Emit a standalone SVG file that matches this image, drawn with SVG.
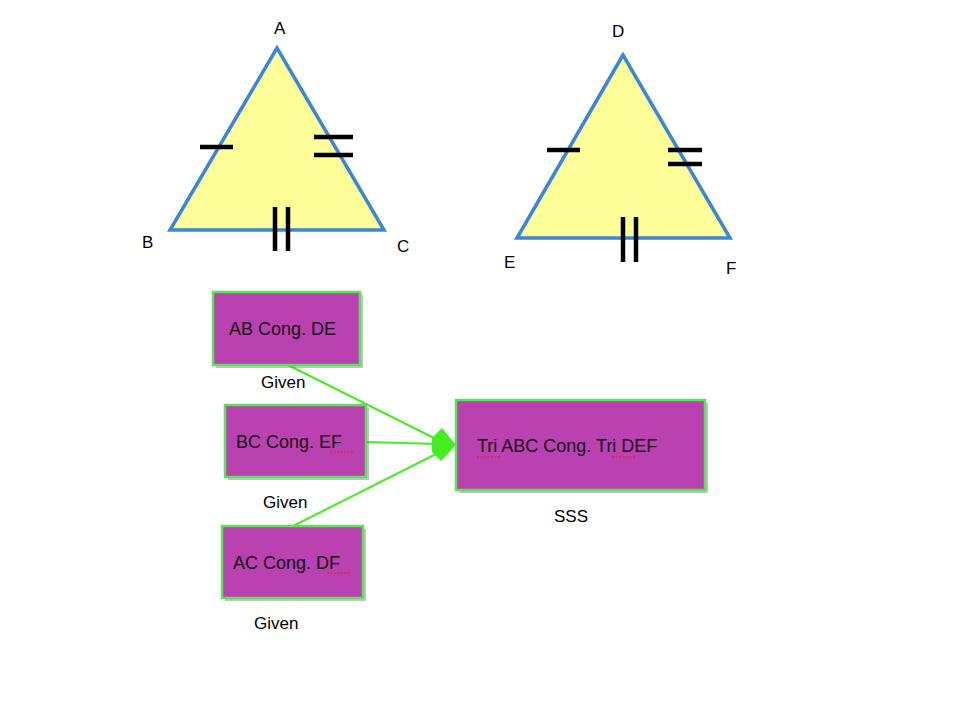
<svg xmlns="http://www.w3.org/2000/svg" width="960" height="720" viewBox="0 0 960 720">
<style>
.tri{fill:#ffff99;stroke:#3a86d8;stroke-width:3.5;stroke-linejoin:miter}
.tk{stroke:#000;stroke-width:4.5}
.lbl{font-family:"Liberation Sans",Arial,sans-serif;font-size:17px;fill:#000}
.box{fill:#b941b0;stroke:#55e655;stroke-width:2.5}
.sh{fill:#888;opacity:0.5}
.bt{font-family:"Liberation Sans",Arial,sans-serif;font-size:18px;fill:#1a0a18}
.sq{stroke:#e02020;stroke-width:1.2;stroke-dasharray:2 1.5}
.cn{stroke:#44ee22;stroke-width:2;fill:none}
</style>
<rect width="960" height="720" fill="#fff"/>
<g id="triangleABC">
<polygon class="tri" points="277,48 170,230 384,230"/>
<line class="tk" x1="200" y1="147" x2="233" y2="147"/>
<line class="tk" x1="314" y1="137" x2="353" y2="137"/>
<line class="tk" x1="314" y1="155" x2="353" y2="155"/>
<line class="tk" x1="275" y1="207" x2="275" y2="251"/>
<line class="tk" x1="288" y1="207" x2="288" y2="251"/>
<text class="lbl" x="274" y="34">A</text>
<text class="lbl" x="142" y="248">B</text>
<text class="lbl" x="397" y="252">C</text>
</g>
<g id="triangleDEF">
<polygon class="tri" points="623,55 517,238 730,238"/>
<line class="tk" x1="547" y1="150" x2="580" y2="150"/>
<line class="tk" x1="668" y1="150" x2="702" y2="150"/>
<line class="tk" x1="668" y1="164" x2="702" y2="164"/>
<line class="tk" x1="623" y1="217" x2="623" y2="262"/>
<line class="tk" x1="636" y1="217" x2="636" y2="262"/>
<text class="lbl" x="612" y="37">D</text>
<text class="lbl" x="504" y="268">E</text>
<text class="lbl" x="726" y="274">F</text>
</g>
<g id="connectors">
<line class="cn" x1="288" y1="365" x2="440" y2="441"/>
<line class="cn" x1="366" y1="442" x2="440" y2="444"/>
<line class="cn" x1="293" y1="526" x2="440" y2="452"/>
<polygon fill="#44ee22" points="456,445 442,428 432,438 432,452 441,461"/>
</g>
<g id="nodeAB">
<rect class="sh" x="216" y="295" width="147" height="73"/>
<rect class="box" x="213" y="292" width="147" height="73"/>
<text class="bt" x="229" y="335">AB Cong. DE</text>
<text class="lbl" x="261" y="388">Given</text>
</g>
<g id="nodeBC">
<rect class="sh" x="228" y="408" width="141" height="72"/>
<rect class="box" x="225" y="405" width="141" height="72"/>
<text class="bt" x="236" y="448">BC Cong. EF</text>
<line class="sq" x1="330" y1="452" x2="354" y2="452"/>
<text class="lbl" x="263" y="508">Given</text>
</g>
<g id="nodeAC">
<rect class="sh" x="225" y="529" width="141" height="72"/>
<rect class="box" x="222" y="526" width="141" height="72"/>
<text class="bt" x="233" y="569">AC Cong. DF</text>
<line class="sq" x1="327" y1="573" x2="351" y2="573"/>
<text class="lbl" x="254" y="629">Given</text>
</g>
<g id="nodeTri">
<rect class="sh" x="459" y="403" width="249" height="90"/>
<rect class="box" x="456" y="400" width="249" height="90"/>
<text class="bt" x="477" y="452">Tri ABC Cong. Tri DEF</text>
<line class="sq" x1="477" y1="457" x2="501" y2="457"/>
<line class="sq" x1="612" y1="457" x2="636" y2="457"/>
<text class="lbl" x="554" y="522">SSS</text>
</g>
</svg>
